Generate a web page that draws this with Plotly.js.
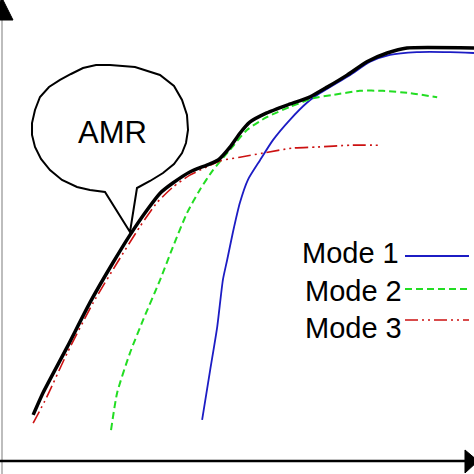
<!DOCTYPE html>
<html>
<head>
<meta charset="utf-8">
<script src="https://cdn.plot.ly/plotly-3.0.1.min.js"></script>
<style>html,body{margin:0;padding:0;background:#fff;}#chart{width:474px;height:474px;}</style>
</head>
<body>
<div id="chart"></div>
<script>
// Data (arbitrary units)
const amrX = [6.6, 8.7, 13.8, 18.6, 23.5, 27.1, 30.7, 33.5, 36.2, 39.8, 43.4, 45.8, 48.3, 50.4, 52.5, 56.1, 60.4, 65.3, 68.9, 73.1, 77.3, 81.6, 85.8, 100];
const amrY = [10.0, 14.8, 24.7, 34.3, 43.0, 49.0, 54.4, 58.1, 60.3, 62.7, 64.2, 65.3, 68.1, 71.1, 73.5, 75.5, 77.2, 79.0, 81.1, 83.7, 86.6, 88.5, 89.6, 89.6];

const mode1X = [42.4, 44.1, 45.6, 46.8, 47.7, 48.9, 50.4, 52.1, 54.7, 57.4, 61.0, 64.6, 67.4, 73.7, 78.0, 82.2, 87.9, 94.9, 100];
const mode1Y = [8.9, 19.7, 29.1, 39.3, 43.6, 49.5, 56.0, 61.0, 65.3, 69.6, 74.0, 77.7, 79.8, 83.7, 86.6, 88.1, 88.7, 88.7, 88.5];

const mode2X = [23.1, 24.4, 27.1, 29.9, 33.5, 36.2, 39.2, 41.9, 44.7, 48.3, 51.9, 56.1, 61.0, 65.9, 70.1, 75.8, 80.7, 86.4, 92.2];
const mode2Y = [6.7, 14.8, 23.4, 30.6, 39.3, 46.4, 53.8, 58.8, 63.1, 67.5, 71.8, 74.6, 76.8, 78.7, 79.4, 80.3, 80.3, 79.8, 78.9];

const mode3X = [6.6, 9.5, 13.8, 19.3, 24.4, 29.2, 32.8, 36.2, 39.8, 43.4, 46.2, 50.4, 55.3, 61.7, 66.7, 73.7, 80.5];
const mode3Y = [8.2, 13.9, 23.4, 34.3, 43.0, 50.8, 56.0, 59.4, 62.0, 63.8, 65.1, 65.9, 66.8, 67.9, 68.1, 68.5, 68.5];

const seriesNames = ["Mode 1", "Mode 2", "Mode 3"];
const bubbleLabel = "AMR";

const colors = {amr: "#000000", m1: "#1c1cc4", m2: "#22dd22", m3: "#cc1111"};
const dash3 = "13px,4px,2px,4px,2px,4px";
const dash2 = "7px,4px";

// pixel -> paper helper for decorations
const L = 2, B = 13, W = 472, H = 461;
function P(px, py) { return [(px - L) / W, (474 - B - py) / H]; }
function pathFrom(pts, close) {
  let s = "";
  pts.forEach((p, i) => { const q = P(p[0], p[1]); s += (i ? " L " : "M ") + q[0].toFixed(4) + "," + q[1].toFixed(4); });
  return s + (close ? " Z" : "");
}

const traces = [
  {x: mode1X, y: mode1Y, mode: "lines", name: seriesNames[0], line: {color: colors.m1, width: 1.8, shape: "spline", smoothing: 0.6}},
  {x: mode2X, y: mode2Y, mode: "lines", name: seriesNames[1], line: {color: colors.m2, width: 2, dash: dash2, shape: "spline", smoothing: 0.6}},
  {x: mode3X, y: mode3Y, mode: "lines", name: seriesNames[2], line: {color: colors.m3, width: 1.6, dash: dash3, shape: "spline", smoothing: 0.6}},
  {x: amrX, y: amrY, mode: "lines", name: bubbleLabel, line: {color: colors.amr, width: 3.5, shape: "spline", smoothing: 0.5}}
];

const bubblePts = [[110,65],[135,67],[160,75],[174,86],[182,100],[187,115],[188,130],[186,143],[182,153],[174,164],[163,173],[150,181],[137,188],[130,232],[105,192],[90,190],[77,187],[62,180],[50,170],[41,159],[35,147],[32,135],[32,123],[35,110],[40,97],[49,87],[60,80],[71,74],[83,68],[96,65]];

const shapes = [
  // y axis line
  {type: "line", xref: "paper", yref: "paper", x0: P(2,0)[0], x1: P(2,0)[0], y0: P(2,474)[1], y1: P(2,10)[1], line: {color: "#bdbdbd", width: 2}},
  // x axis line
  {type: "line", xref: "paper", yref: "paper", x0: P(0,461)[0], x1: P(468,461)[0], y0: P(0,461)[1], y1: P(0,461)[1], line: {color: "#000", width: 2.5}},
  // arrows
  {type: "path", xref: "paper", yref: "paper", path: pathFrom([[465,450],[478,461],[465,473]], true), fillcolor: "#000", line: {color: "#000", width: 1}},
  {type: "path", xref: "paper", yref: "paper", path: pathFrom([[-9,20],[13,20],[2,-2]], true), fillcolor: "#000", line: {color: "#000", width: 1}},
  // speech bubble
  {type: "path", xref: "paper", yref: "paper", path: pathFrom(bubblePts, true), fillcolor: "rgba(255,255,255,0)", line: {color: "#000", width: 2}},
  // legend lines
  {type: "line", xref: "paper", yref: "paper", x0: P(405,0)[0], x1: P(469,0)[0], y0: P(0,256)[1], y1: P(0,256)[1], line: {color: colors.m1, width: 1.8}},
  {type: "line", xref: "paper", yref: "paper", x0: P(405,0)[0], x1: P(469,0)[0], y0: P(0,289)[1], y1: P(0,289)[1], line: {color: colors.m2, width: 2, dash: dash2}},
  {type: "line", xref: "paper", yref: "paper", x0: P(405,0)[0], x1: P(469,0)[0], y0: P(0,320)[1], y1: P(0,320)[1], line: {color: colors.m3, width: 1.6, dash: dash3}}
];

const font = "Liberation Sans, Arial, sans-serif";
const annotations = [
  {xref: "paper", yref: "paper", x: P(112,0)[0], y: P(0,132)[1], text: bubbleLabel, showarrow: false, xanchor: "center", yanchor: "middle", font: {family: font, size: 31, color: "#000"}},
  {xref: "paper", yref: "paper", x: P(401,0)[0], y: P(0,253)[1], text: seriesNames[0], showarrow: false, xanchor: "right", yanchor: "middle", font: {family: font, size: 29, color: "#000"}},
  {xref: "paper", yref: "paper", x: P(404,0)[0], y: P(0,291)[1], text: seriesNames[1], showarrow: false, xanchor: "right", yanchor: "middle", font: {family: font, size: 29, color: "#000"}},
  {xref: "paper", yref: "paper", x: P(404,0)[0], y: P(0,328)[1], text: seriesNames[2], showarrow: false, xanchor: "right", yanchor: "middle", font: {family: font, size: 29, color: "#000"}}
];

const layout = {
  width: 474, height: 474,
  margin: {l: L, r: 474 - L - W, t: 474 - B - H, b: B, pad: 0},
  paper_bgcolor: "#fff", plot_bgcolor: "#fff",
  showlegend: false,
  xaxis: {range: [0, 100], showgrid: false, zeroline: false, showticklabels: false, ticks: "", showline: false, fixedrange: true},
  yaxis: {range: [0, 100], showgrid: false, zeroline: false, showticklabels: false, ticks: "", showline: false, fixedrange: true},
  shapes: shapes,
  annotations: annotations
};

Plotly.newPlot("chart", traces, layout, {displayModeBar: false, staticPlot: true});
</script>
</body>
</html>
